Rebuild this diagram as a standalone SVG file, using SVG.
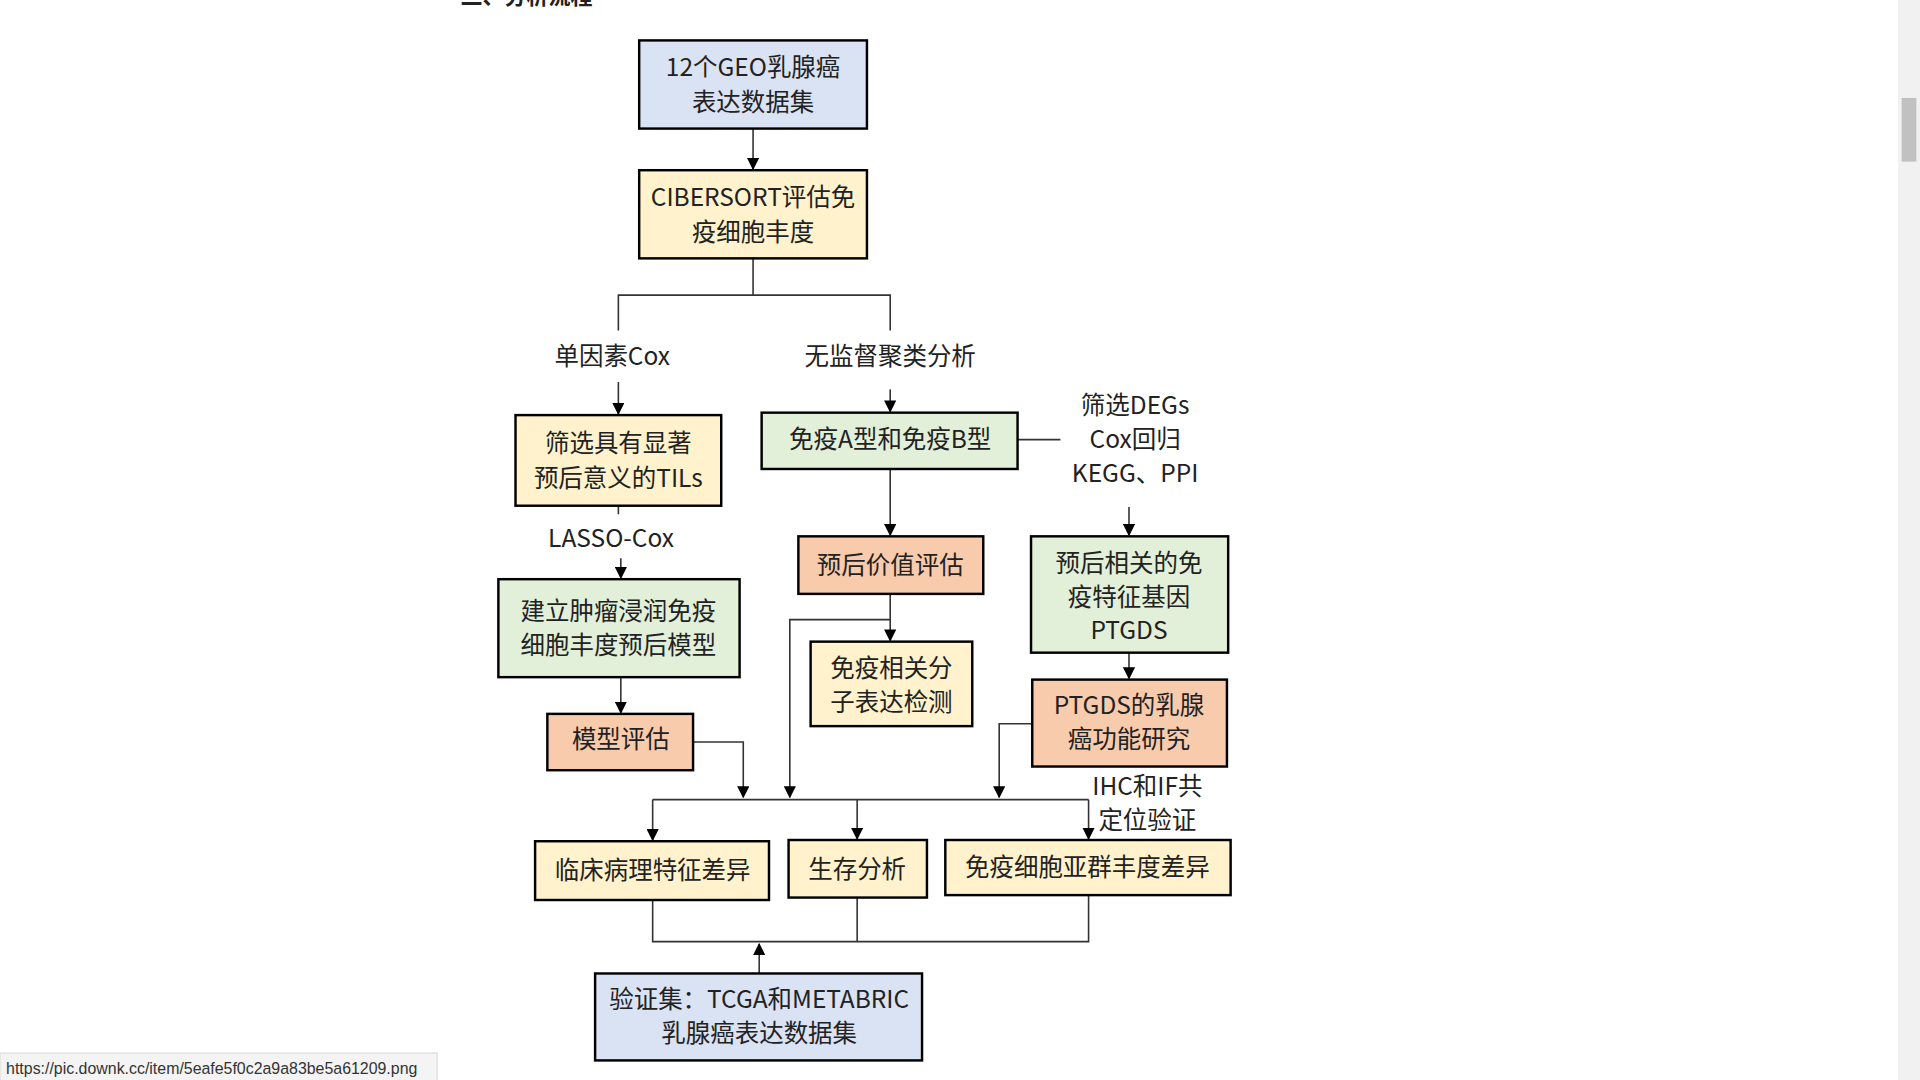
<svg xmlns="http://www.w3.org/2000/svg" width="1920" height="1080" viewBox="0 0 1920 1080">
<defs>
<marker id="a" markerWidth="10" markerHeight="10" refX="9" refY="5" orient="auto" markerUnits="userSpaceOnUse"><path d="M0,0 L10,5 L0,10 z" fill="#000"/></marker>
<style>
.b{stroke:#000;stroke-width:2}
.blue{fill:#dae3f3}.yel{fill:#fff2cc}.grn{fill:#e2f0d9}.org{fill:#f8cbad}
text{font-family:"Noto Sans CJK SC","Noto Sans",sans-serif;font-size:20px;fill:#222;text-anchor:middle}
.c line,.c polyline{stroke:#333;stroke-width:1.3;fill:none}
</style>
</defs>
<rect width="1920" height="1080" fill="#fff"/>
<g transform="scale(1.2245)">
<text x="430" y="3" style="font-weight:bold;font-size:18px">二、分析流程</text>
<g class="c">
<line x1="615" y1="105" x2="615" y2="138" marker-end="url(#a)"/>
<polyline points="615,211 615,241"/>
<polyline points="505,270 505,241 727,241 727,270"/>
<line x1="505" y1="312" x2="505" y2="338" marker-end="url(#a)"/>
<line x1="727" y1="318" x2="727" y2="336" marker-end="url(#a)"/>
<line x1="831" y1="359" x2="866" y2="359"/>
<line x1="922" y1="414" x2="922" y2="437" marker-end="url(#a)"/>
<line x1="505" y1="413" x2="505" y2="420"/>
<line x1="507" y1="456" x2="507" y2="472" marker-end="url(#a)"/>
<line x1="727" y1="383" x2="727" y2="437" marker-end="url(#a)"/>
<line x1="727" y1="485" x2="727" y2="523" marker-end="url(#a)"/>
<polyline points="727,506 645,506 645,651" marker-end="url(#a)"/>
<line x1="922" y1="533" x2="922" y2="554" marker-end="url(#a)"/>
<line x1="507" y1="553" x2="507" y2="582" marker-end="url(#a)"/>
<polyline points="566,606 607,606 607,651" marker-end="url(#a)"/>
<polyline points="843,591 816,591 816,651" marker-end="url(#a)"/>
<line x1="533" y1="653" x2="889" y2="653"/>
<line x1="533" y1="653" x2="533" y2="686" marker-end="url(#a)"/>
<line x1="700" y1="653" x2="700" y2="685" marker-end="url(#a)"/>
<line x1="889" y1="653" x2="889" y2="685" marker-end="url(#a)"/>
<polyline points="533,735 533,769 889,769 889,731"/>
<line x1="700" y1="733" x2="700" y2="769"/>
<line x1="620" y1="795" x2="620" y2="771" marker-end="url(#a)"/>
</g>
<g id="n1"><rect class="b blue" x="522" y="33" width="186" height="72"/><text x="615" y="62">12个GEO乳腺癌</text><text x="615" y="91">表达数据集</text></g>
<g id="n2"><rect class="b yel" x="522" y="139" width="186" height="72"/><text x="615" y="168">CIBERSORT评估免</text><text x="615" y="197">疫细胞丰度</text></g>
<g id="l1"><text x="500" y="298">单因素Cox</text><text x="727" y="298">无监督聚类分析</text></g>
<g id="n3"><rect class="b yel" x="421" y="339" width="168" height="74"/><text x="505" y="369">筛选具有显著</text><text x="505" y="398">预后意义的TILs</text></g>
<g id="n4"><rect class="b grn" x="622" y="337" width="209" height="46"/><text x="727" y="366">免疫A型和免疫B型</text></g>
<g id="l2"><text x="927" y="338">筛选DEGs</text><text x="927" y="366">Cox回归</text><text x="927" y="394">KEGG、PPI</text></g>
<g id="n5"><rect class="b grn" x="842" y="438" width="161" height="95"/><text x="922" y="467">预后相关的免</text><text x="922" y="495">疫特征基因</text><text x="922" y="522">PTGDS</text></g>
<g id="l3"><text x="499" y="447">LASSO-Cox</text></g>
<g id="n6"><rect class="b grn" x="407" y="473" width="197" height="80"/><text x="505" y="506">建立肿瘤浸润免疫</text><text x="505" y="534">细胞丰度预后模型</text></g>
<g id="n7"><rect class="b org" x="652" y="438" width="151" height="47"/><text x="727" y="469">预后价值评估</text></g>
<g id="n8"><rect class="b yel" x="662" y="524" width="132" height="69"/><text x="728" y="553">免疫相关分</text><text x="728" y="581">子表达检测</text></g>
<g id="n9"><rect class="b org" x="843" y="555" width="159" height="71"/><text x="922" y="583">PTGDS的乳腺</text><text x="922" y="611">癌功能研究</text></g>
<g id="n10"><rect class="b org" x="447" y="583" width="119" height="46"/><text x="507" y="611">模型评估</text></g>
<g id="l4"><text x="937" y="649">IHC和IF共</text><text x="937" y="677">定位验证</text></g>
<g id="n11"><rect class="b yel" x="437" y="687" width="191" height="48"/><text x="533" y="718">临床病理特征差异</text></g>
<g id="n12"><rect class="b yel" x="644" y="686" width="113" height="47"/><text x="700" y="717">生存分析</text></g>
<g id="n13"><rect class="b yel" x="772" y="686" width="233" height="45"/><text x="888" y="715">免疫细胞亚群丰度差异</text></g>
<g id="n14"><rect class="b blue" x="486" y="795" width="267" height="71"/><text x="620" y="823">验证集：TCGA和METABRIC</text><text x="620" y="851">乳腺癌表达数据集</text></g>
<g id="ui">
<rect x="0" y="860" width="357" height="23" fill="#f4f4f4" stroke="#ddd"/>
<text x="5" y="877" style="font-size:13px;text-anchor:start;fill:#333;font-family:'Liberation Sans',sans-serif">https://pic.downk.cc/item/5eafe5f0c2a9a83be5a61209.png</text>
<rect x="1550" y="0" width="18" height="883" fill="#f1f1f1"/>
<rect x="1553" y="80" width="12" height="52" fill="#c1c1c1"/>
</g>
</g>
</svg>
